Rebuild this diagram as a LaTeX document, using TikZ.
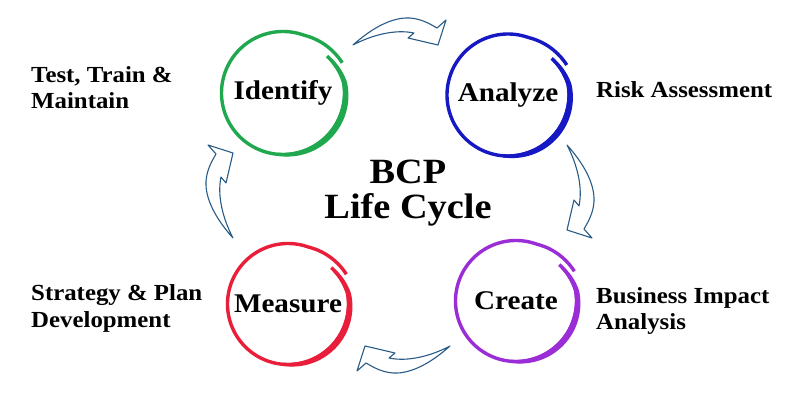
\documentclass[tikz,border=0pt]{standalone}
\usepackage{fontspec}
\setmainfont{Liberation Serif}[FakeStretch=1.08]
\definecolor{cgreen}{RGB}{32,168,78}
\definecolor{cblue}{RGB}{22,24,196}
\definecolor{cred}{RGB}{232,30,58}
\definecolor{cpurple}{RGB}{155,45,215}
\definecolor{arrowblue}{RGB}{40,92,135}
\newcommand\brushring[3]{%
 \begin{scope}[shift={(#1.center)}]
  \draw[line width=3.4pt,#3] plot[smooth,domain=40:-333,samples=150] ({\x}:{ringr(\x,#2)});
  \fill[#3] plot[smooth,domain=36:-95,samples=50] ({\x}:{ringr(\x,#2)-1.6})
     -- plot[smooth,domain=-95:36,samples=50] ({\x}:{ringr(\x,#2)+1.6+3*sin((36-\x)/131*180)}) -- cycle;
 \end{scope}}
\begin{document}
\begin{tikzpicture}[x=1pt,y=1pt,
  declare function={ringr(\q,\rr)=\rr-4*max(0,(\q-10)/30)+5*max(0,(0-290-\q)/43);},
  stagetext/.style={inner sep=0pt,font=\fontsize{27}{28}\selectfont\bfseries},
  sidetext/.style={inner sep=0pt,align=left,font=\fontsize{23}{26.5}\selectfont\bfseries},
  titletext/.style={inner sep=0pt,align=center,font=\fontsize{35.5}{35}\selectfont\bfseries},
  arrowline/.style={draw=arrowblue,line width=1.1pt,fill=white,line join=round},
  carrow/.pic={\path[arrowline] (-47,-13) .. controls (-28,4) and (-8,15) .. (10,14)
      .. controls (22,13) and (30,8) .. (37,4) -- (46,12) -- (38,-13) -- (8,-6) -- (14,-1)
      .. controls (-5,3) and (-28,-3) .. (-47,-13) -- cycle;}]
\useasboundingbox (0,0) rectangle (800,405);
\fill[white] (0,0) rectangle (800,405);
% stages
\node[stagetext] (identify) at (283,312) {Identify};
\node[stagetext] (analyze) at (508,310) {Analyze};
\node[stagetext] (measure) at (288,101) {Measure};
\node[stagetext] (create) at (516,104) {Create};
\brushring{identify}{61.5}{cgreen}
\brushring{analyze}{61}{cblue}
\brushring{measure}{60.5}{cred}
\brushring{create}{60.5}{cpurple}
% title
\node[titletext] (title) at (408,212) {BCP\\Life Cycle};
% side labels
\node[sidetext,anchor=west] (ttm) at (31,317.5) {Test, Train \&\\Maintain};
\node[sidetext,anchor=base west] (risk) at (596,307) {Risk Assessment};
\node[sidetext,anchor=west] (spd) at (31,96.6) {Strategy \& Plan\\Development};
\node[sidetext,anchor=west] (bia) at (596,94) {Business Impact\\Analysis};
% curved arrows
\pic at (400,373) {carrow};
\pic[rotate=-90] at (580,213) {carrow};
\pic[rotate=180] at (403,46) {carrow};
\pic[rotate=90] at (220,214) {carrow};
\end{tikzpicture}
\end{document}
